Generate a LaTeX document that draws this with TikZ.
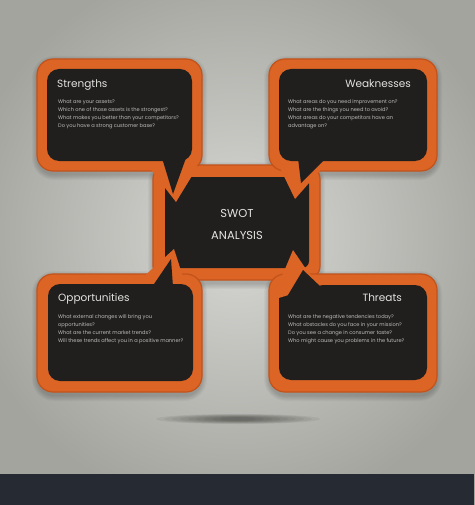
\documentclass[tikz,border=0pt]{standalone}
\usepackage{fontspec}
\setmainfont{Poppins}
\definecolor{bgc}{HTML}{D8D9D4}
\definecolor{bge}{HTML}{A3A49E}
\definecolor{org}{HTML}{DC6424}
\definecolor{orgd}{HTML}{C2531C}
\definecolor{blk}{HTML}{211F1E}
\definecolor{ttlc}{HTML}{E2E2DF}
\definecolor{txtc}{HTML}{BDBDBA}
\definecolor{barc}{HTML}{262A33}
\newcommand\softsh[5]{%
  \foreach \k in {1,...,6}{\fill[black, opacity=0.03, rounded corners=#5+\k] (#1-\k+1,#2-\k+3) rectangle (#3+\k-1,#4+\k+3);}}
\begin{document}
\begin{tikzpicture}[x=1pt,y=-1pt,
  ttl/.style={font=\fontsize{10.5}{12}\selectfont, text=ttlc, inner sep=0pt},
  body/.style={font=\fontsize{5.1}{6}\selectfont, text=txtc, inner sep=0pt, anchor=base west},
  ctr/.style={font=\fontsize{11.5}{13}\selectfont, text=ttlc, inner sep=0pt, anchor=base},
  frame/.style={fill=org, draw=orgd, line width=1.2pt}]
\useasboundingbox (0,0) rectangle (474,505);
% background
\shade[inner color=bgc, outer color=bge] (-40,-40) rectangle (514,514);
\fill[barc] (0,474) rectangle (474,505);
% ground shadow
\foreach \r/\s in {82/5,74/4.6,66/4.2,58/3.8,50/3.4,42/3,34/2.6,26/2.2,18/1.8}{\fill[black, opacity=0.055] (238,419) ellipse ({\r} and {\s});}
% shadows of frames
\softsh{153}{165}{320}{280}{14}
\softsh{37}{59}{202}{171}{16}
\softsh{269}{59}{437}{171}{16}
\softsh{37}{274}{202}{392}{16}
\softsh{269}{274}{437}{392}{16}
% centre box
\path[frame, rounded corners=14] (153,165) rectangle (320,280);
\fill[blk, rounded corners=7] (165,177) rectangle (309,268);
% Strengths
\path[frame, rounded corners=16] (37,59) rectangle (202,171);
\fill[blk, rounded corners=12] (47,69) rectangle (192,161);
\fill[org] (148,166) -- (176,202) -- (198,166) -- cycle;
\fill[blk] (162,158) -- (173,194) -- (186,158) -- cycle;
% Weaknesses
\path[frame, rounded corners=16] (269,59) rectangle (437,171);
\fill[blk, rounded corners=12] (279,69) rectangle (427,161);
\fill[org] (279,166) -- (295,199) -- (324,166) -- cycle;
\fill[blk] (298,158) -- (301,183) -- (326,158) -- cycle;
% Opportunities
\path[frame, rounded corners=16] (37,274) rectangle (202,392);
\fill[blk, rounded corners=12] (48,284) rectangle (193,381);
\fill[org] (140,280) -- (174,249) -- (184,280) -- cycle;
\fill[blk] (152,287) -- (171,259) -- (173,287) -- cycle;
% Threats
\path[frame, rounded corners=16] (269,274) rectangle (437,392);
\fill[blk, rounded corners=12] (279,285) rectangle (427,380);
\fill[org] (272,300) -- (293,250) -- (308,272) -- (322,285) -- cycle;
\fill[blk] (285,300) -- (303,270) -- (322,288) -- cycle;
% centre text
\node[ctr] (swot) at (237,217.5) {SWOT};
\node[ctr] (analysis) at (237,239) {ANALYSIS};
% titles
\node[ttl, anchor=base west] (st) at (57,87.3) {Strengths};
\node[ttl, anchor=base east] (wk) at (411,87.3) {Weaknesses};
\node[ttl, anchor=base west] (op) at (58,301.5) {Opportunities};
\node[ttl, anchor=base east] (th) at (402,301.5) {Threats};
% body texts
\foreach \t [count=\i] in {What are your assets?,Which one of those assets is the strongest?,What makes you better than your competitors?,Do you have a strong customer base?}
  {\node[body] (s\i) at (58,95.5+8*\i) {\t};}
\foreach \t [count=\i] in {What areas do you need improvement on?,What are the things you need to avoid?,What areas do your competitors have an,advantage on?}
  {\node[body] (w\i) at (288,95.5+8*\i) {\t};}
\foreach \t [count=\i] in {What external changes will bring you,opportunities?,What are the current market trends?,Will these trends affect you in a positive manner?}
  {\node[body] (o\i) at (58,310.5+8*\i) {\t};}
\foreach \t [count=\i] in {What are the negative tendencies today?,What obstacles do you face in your mission?,Do you see a change in consumer taste?,Who might cause you problems in the future?}
  {\node[body] (t\i) at (288,310.5+8*\i) {\t};}
\end{tikzpicture}
\end{document}
